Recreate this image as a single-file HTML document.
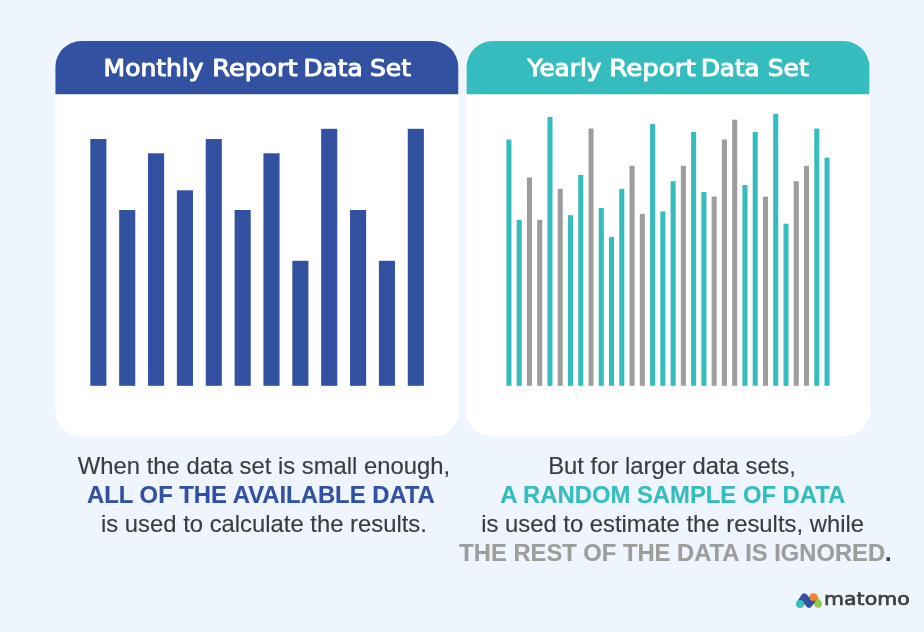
<!DOCTYPE html>
<html lang="en"><head><meta charset="utf-8"><title>Monthly vs Yearly Report Data Set</title>
<style>
html,body{margin:0;padding:0;background:#EEF5FE;}
body{width:924px;height:632px;overflow:hidden;position:relative;font-family:"Liberation Sans",Arial,Helvetica,sans-serif;}
svg{position:absolute;left:0;top:0;display:block}
text{font-family:"Liberation Sans",Arial,Helvetica,sans-serif;}
.h{font-family:"DejaVu Sans","Liberation Sans",sans-serif;font-weight:normal;font-size:22.1px;fill:#fff;stroke:#fff;stroke-width:1.0px;stroke-linejoin:round}
.t{font-size:23.2px;fill:#3A3D40;stroke:#3A3D40;stroke-width:0.15px}
.b{font-weight:bold}
</style></head><body>
<svg width="924" height="632" viewBox="0 0 924 632">
<rect width="924" height="632" fill="#EEF5FE"/>

<rect x="55.4" y="41" width="403.60" height="395.60" rx="26" ry="26" fill="#fff"/>
<path d="M55.4 94.3V67A26 26 0 0 1 81.4 41H432.3A26 26 0 0 1 458.3 67V94.3Z" fill="#3251A0"/>
<rect x="465.8" y="41" width="404.20" height="395.60" rx="26" ry="26" fill="#fff"/>
<path d="M466.6 94.3V67A26 26 0 0 1 492.6 41H843.4A26 26 0 0 1 869.4 67V94.3Z" fill="#35BCBE"/>
<g fill="#3251A0">
<rect x="90.30" y="139" width="16.1" height="246.80"/>
<rect x="119.16" y="210" width="16.1" height="175.80"/>
<rect x="148.02" y="153.3" width="16.1" height="232.50"/>
<rect x="176.88" y="190.3" width="16.1" height="195.50"/>
<rect x="205.74" y="139" width="16.1" height="246.80"/>
<rect x="234.60" y="210" width="16.1" height="175.80"/>
<rect x="263.46" y="153.3" width="16.1" height="232.50"/>
<rect x="292.32" y="260.8" width="16.1" height="125.00"/>
<rect x="321.18" y="128.8" width="16.1" height="257.00"/>
<rect x="350.04" y="210" width="16.1" height="175.80"/>
<rect x="378.90" y="260.8" width="16.1" height="125.00"/>
<rect x="407.76" y="128.8" width="16.1" height="257.00"/>
</g>
<rect x="506.40" y="139.5" width="5.05" height="246.30" fill="#35BCBE"/>
<rect x="516.66" y="219.8" width="5.05" height="166.00" fill="#35BCBE"/>
<rect x="526.92" y="177.4" width="5.05" height="208.40" fill="#9D9D9C"/>
<rect x="537.19" y="219.8" width="5.05" height="166.00" fill="#9D9D9C"/>
<rect x="547.45" y="117" width="5.05" height="268.80" fill="#35BCBE"/>
<rect x="557.71" y="188.8" width="5.05" height="197.00" fill="#9D9D9C"/>
<rect x="567.97" y="215.2" width="5.05" height="170.60" fill="#35BCBE"/>
<rect x="578.23" y="174.9" width="5.05" height="210.90" fill="#35BCBE"/>
<rect x="588.50" y="128.6" width="5.05" height="257.20" fill="#9D9D9C"/>
<rect x="598.76" y="208" width="5.05" height="177.80" fill="#35BCBE"/>
<rect x="609.02" y="236.9" width="5.05" height="148.90" fill="#35BCBE"/>
<rect x="619.28" y="188.8" width="5.05" height="197.00" fill="#35BCBE"/>
<rect x="629.54" y="165.8" width="5.05" height="220.00" fill="#9D9D9C"/>
<rect x="639.81" y="213.8" width="5.05" height="172.00" fill="#9D9D9C"/>
<rect x="650.07" y="124" width="5.05" height="261.80" fill="#35BCBE"/>
<rect x="660.33" y="211.4" width="5.05" height="174.40" fill="#35BCBE"/>
<rect x="670.59" y="181.2" width="5.05" height="204.60" fill="#35BCBE"/>
<rect x="680.85" y="165.8" width="5.05" height="220.00" fill="#9D9D9C"/>
<rect x="691.12" y="131.9" width="5.05" height="253.90" fill="#35BCBE"/>
<rect x="701.38" y="192" width="5.05" height="193.80" fill="#35BCBE"/>
<rect x="711.64" y="196.6" width="5.05" height="189.20" fill="#9D9D9C"/>
<rect x="721.90" y="139.5" width="5.05" height="246.30" fill="#9D9D9C"/>
<rect x="732.16" y="119.7" width="5.05" height="266.10" fill="#9D9D9C"/>
<rect x="742.43" y="185" width="5.05" height="200.80" fill="#35BCBE"/>
<rect x="752.69" y="131.9" width="5.05" height="253.90" fill="#35BCBE"/>
<rect x="762.95" y="196.6" width="5.05" height="189.20" fill="#9D9D9C"/>
<rect x="773.21" y="113.9" width="5.05" height="271.90" fill="#35BCBE"/>
<rect x="783.47" y="223.7" width="5.05" height="162.10" fill="#35BCBE"/>
<rect x="793.74" y="181.2" width="5.05" height="204.60" fill="#9D9D9C"/>
<rect x="804.00" y="165.8" width="5.05" height="220.00" fill="#9D9D9C"/>
<rect x="814.26" y="128.6" width="5.05" height="257.20" fill="#35BCBE"/>
<rect x="824.52" y="157.7" width="5.05" height="228.10" fill="#35BCBE"/>
<text class="h" y="75.9"><tspan x="103.6" textLength="100.0" lengthAdjust="spacingAndGlyphs">Monthly</tspan> <tspan x="212.3" textLength="85.3" lengthAdjust="spacingAndGlyphs">Report</tspan> <tspan x="303.6" textLength="59.0" lengthAdjust="spacingAndGlyphs">Data</tspan> <tspan x="370.0" textLength="41.0" lengthAdjust="spacingAndGlyphs">Set</tspan></text>
<text class="h" y="75.9"><tspan x="527.6" textLength="73.8" lengthAdjust="spacingAndGlyphs">Yearly</tspan> <tspan x="609.3" textLength="86.4" lengthAdjust="spacingAndGlyphs">Report</tspan> <tspan x="700.9" textLength="58.8" lengthAdjust="spacingAndGlyphs">Data</tspan> <tspan x="767.7" textLength="41.0" lengthAdjust="spacingAndGlyphs">Set</tspan></text>
<text class="t" transform="translate(264.0 473.9) scale(1.0276 1)" text-anchor="middle">When the data set is small enough,</text>
<text class="t b" transform="translate(260.95 503) scale(1.0276 1)" text-anchor="middle" style="fill:#3251A0;stroke:#3251A0">ALL OF THE AVAILABLE DATA</text>
<text class="t" transform="translate(263.95 531.7) scale(1.0276 1)" text-anchor="middle">is used to calculate the results.</text>
<text class="t" transform="translate(672.05 473.9) scale(1.0276 1)" text-anchor="middle">But for larger data sets,</text>
<text class="t b" transform="translate(672.7 503) scale(1.0276 1)" text-anchor="middle" style="fill:#35BCBE;stroke:#35BCBE">A RANDOM SAMPLE OF DATA</text>
<text class="t" transform="translate(672.55 531.7) scale(1.0276 1)" text-anchor="middle">is used to estimate the results, while</text>
<text class="t b" transform="translate(675.5 560.7) scale(1.0245 1)" text-anchor="middle"><tspan style="fill:#9D9D9C;stroke:#9D9D9C">THE REST OF THE DATA IS IGNORED</tspan>.</text>
<g fill="none" stroke-linecap="butt" stroke-linejoin="round" stroke-width="7.5">
<path d="M813.5 597.1L818.2 604" stroke="#95C748"/>
<circle cx="818.2" cy="604" r="3.75" fill="#95C748" stroke="none"/>
<path d="M800 604L804.4 597.3L809 604L813.5 597.1" stroke="#3152A0"/>
</g>
<circle cx="800" cy="604" r="3.95" fill="#35BFC0"/>
<circle cx="813.5" cy="597.1" r="3.95" fill="#F38334"/>
<text x="824.1" y="605.4" textLength="85.6" lengthAdjust="spacingAndGlyphs" style="font-family:'DejaVu Sans','Liberation Sans',sans-serif;font-weight:normal;font-size:18.4px;fill:#3B3F3F;stroke:#3B3F3F;stroke-width:0.7px;stroke-linejoin:round">matomo</text>

</svg></body></html>
